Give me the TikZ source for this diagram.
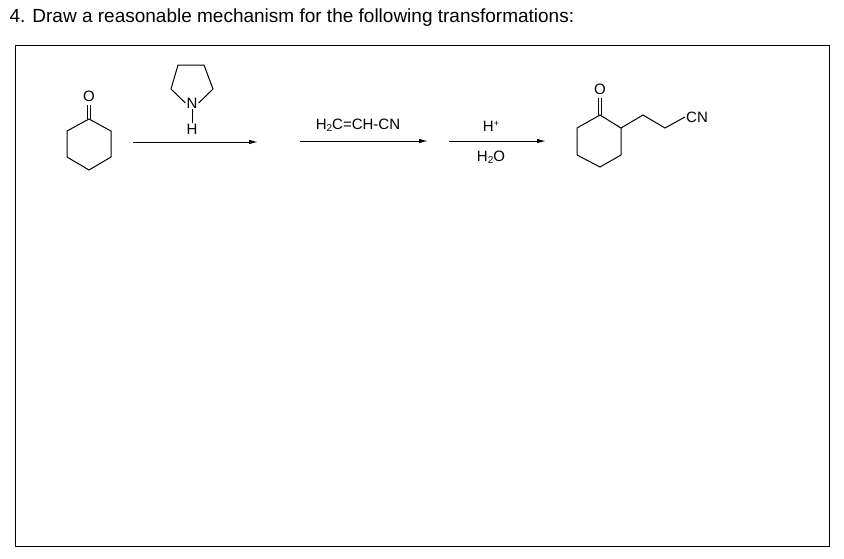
\documentclass[tikz,border=0pt]{standalone}
\usepackage{fontspec}
\setmainfont{Liberation Sans}
\usetikzlibrary{arrows.meta}
\begin{document}
\begin{tikzpicture}[x=1pt,y=-1pt,
  bond/.style={line width=1pt},
  rxn/.style={line width=1pt,-{Latex[length=9pt,width=4.5pt]}},
  lab/.style={inner sep=1pt,font=\fontsize{15}{17}\selectfont}]
\useasboundingbox (0,0) rectangle (844,558);
\node[anchor=west,font=\fontsize{19}{22}\selectfont] (title) at (6,18) {4. Draw a reasonable mechanism for the following transformations:};
\draw[line width=1pt] (15,45) rectangle (829,546);
% cyclohexanone
\node[lab] (o1) at (89,96) {O};
\draw[bond] (89,119) -- (111,131) -- (111,157) -- (89,170) -- (67,157) -- (67,131) -- cycle;
\draw[bond] (87.5,119) -- (87.5,105) (90.5,119) -- (90.5,105);
% pyrrolidine
\node[lab] (n) at (192,103) {N};
\node[lab] (h) at (192,129) {H};
\draw[bond] (n.west) -- (171,89) -- (178,65) -- (204,65) -- (213,89) -- (n.east);
\draw[bond] (n.south) -- (h.north);
% arrows
\coordinate (a1s) at (133,142); \coordinate (a1e) at (258,142);
\draw[rxn] (a1s) -- (a1e);
\coordinate (a2s) at (300,141); \coordinate (a2e) at (428,141);
\draw[rxn] (a2s) -- (a2e);
\node[lab] (r2) at (358,125) {H\raisebox{-0.3ex}{\fontsize{10}{11}\selectfont 2}C=CH-CN};
\coordinate (a3s) at (449,141); \coordinate (a3e) at (546,141);
\draw[rxn] (a3s) -- (a3e);
\node[lab] (r3a) at (491,126) {H\raisebox{0.6ex}{\fontsize{9}{10}\selectfont +}};
\node[lab] (r3b) at (491,157) {H\raisebox{-0.3ex}{\fontsize{10}{11}\selectfont 2}O};
% product
\node[lab] (o2) at (600,89) {O};
\node[lab] (cn) at (697,117) {CN};
\draw[bond] (600,115) -- (621,128) -- (621,155) -- (600,167) -- (577,155) -- (577,128) -- cycle;
\draw[bond] (598.5,115) -- (598.5,98) (601.5,115) -- (601.5,98);
\draw[bond] (621,128) -- (643,115) -- (665,128) -- (cn.west);
\end{tikzpicture}
\end{document}
